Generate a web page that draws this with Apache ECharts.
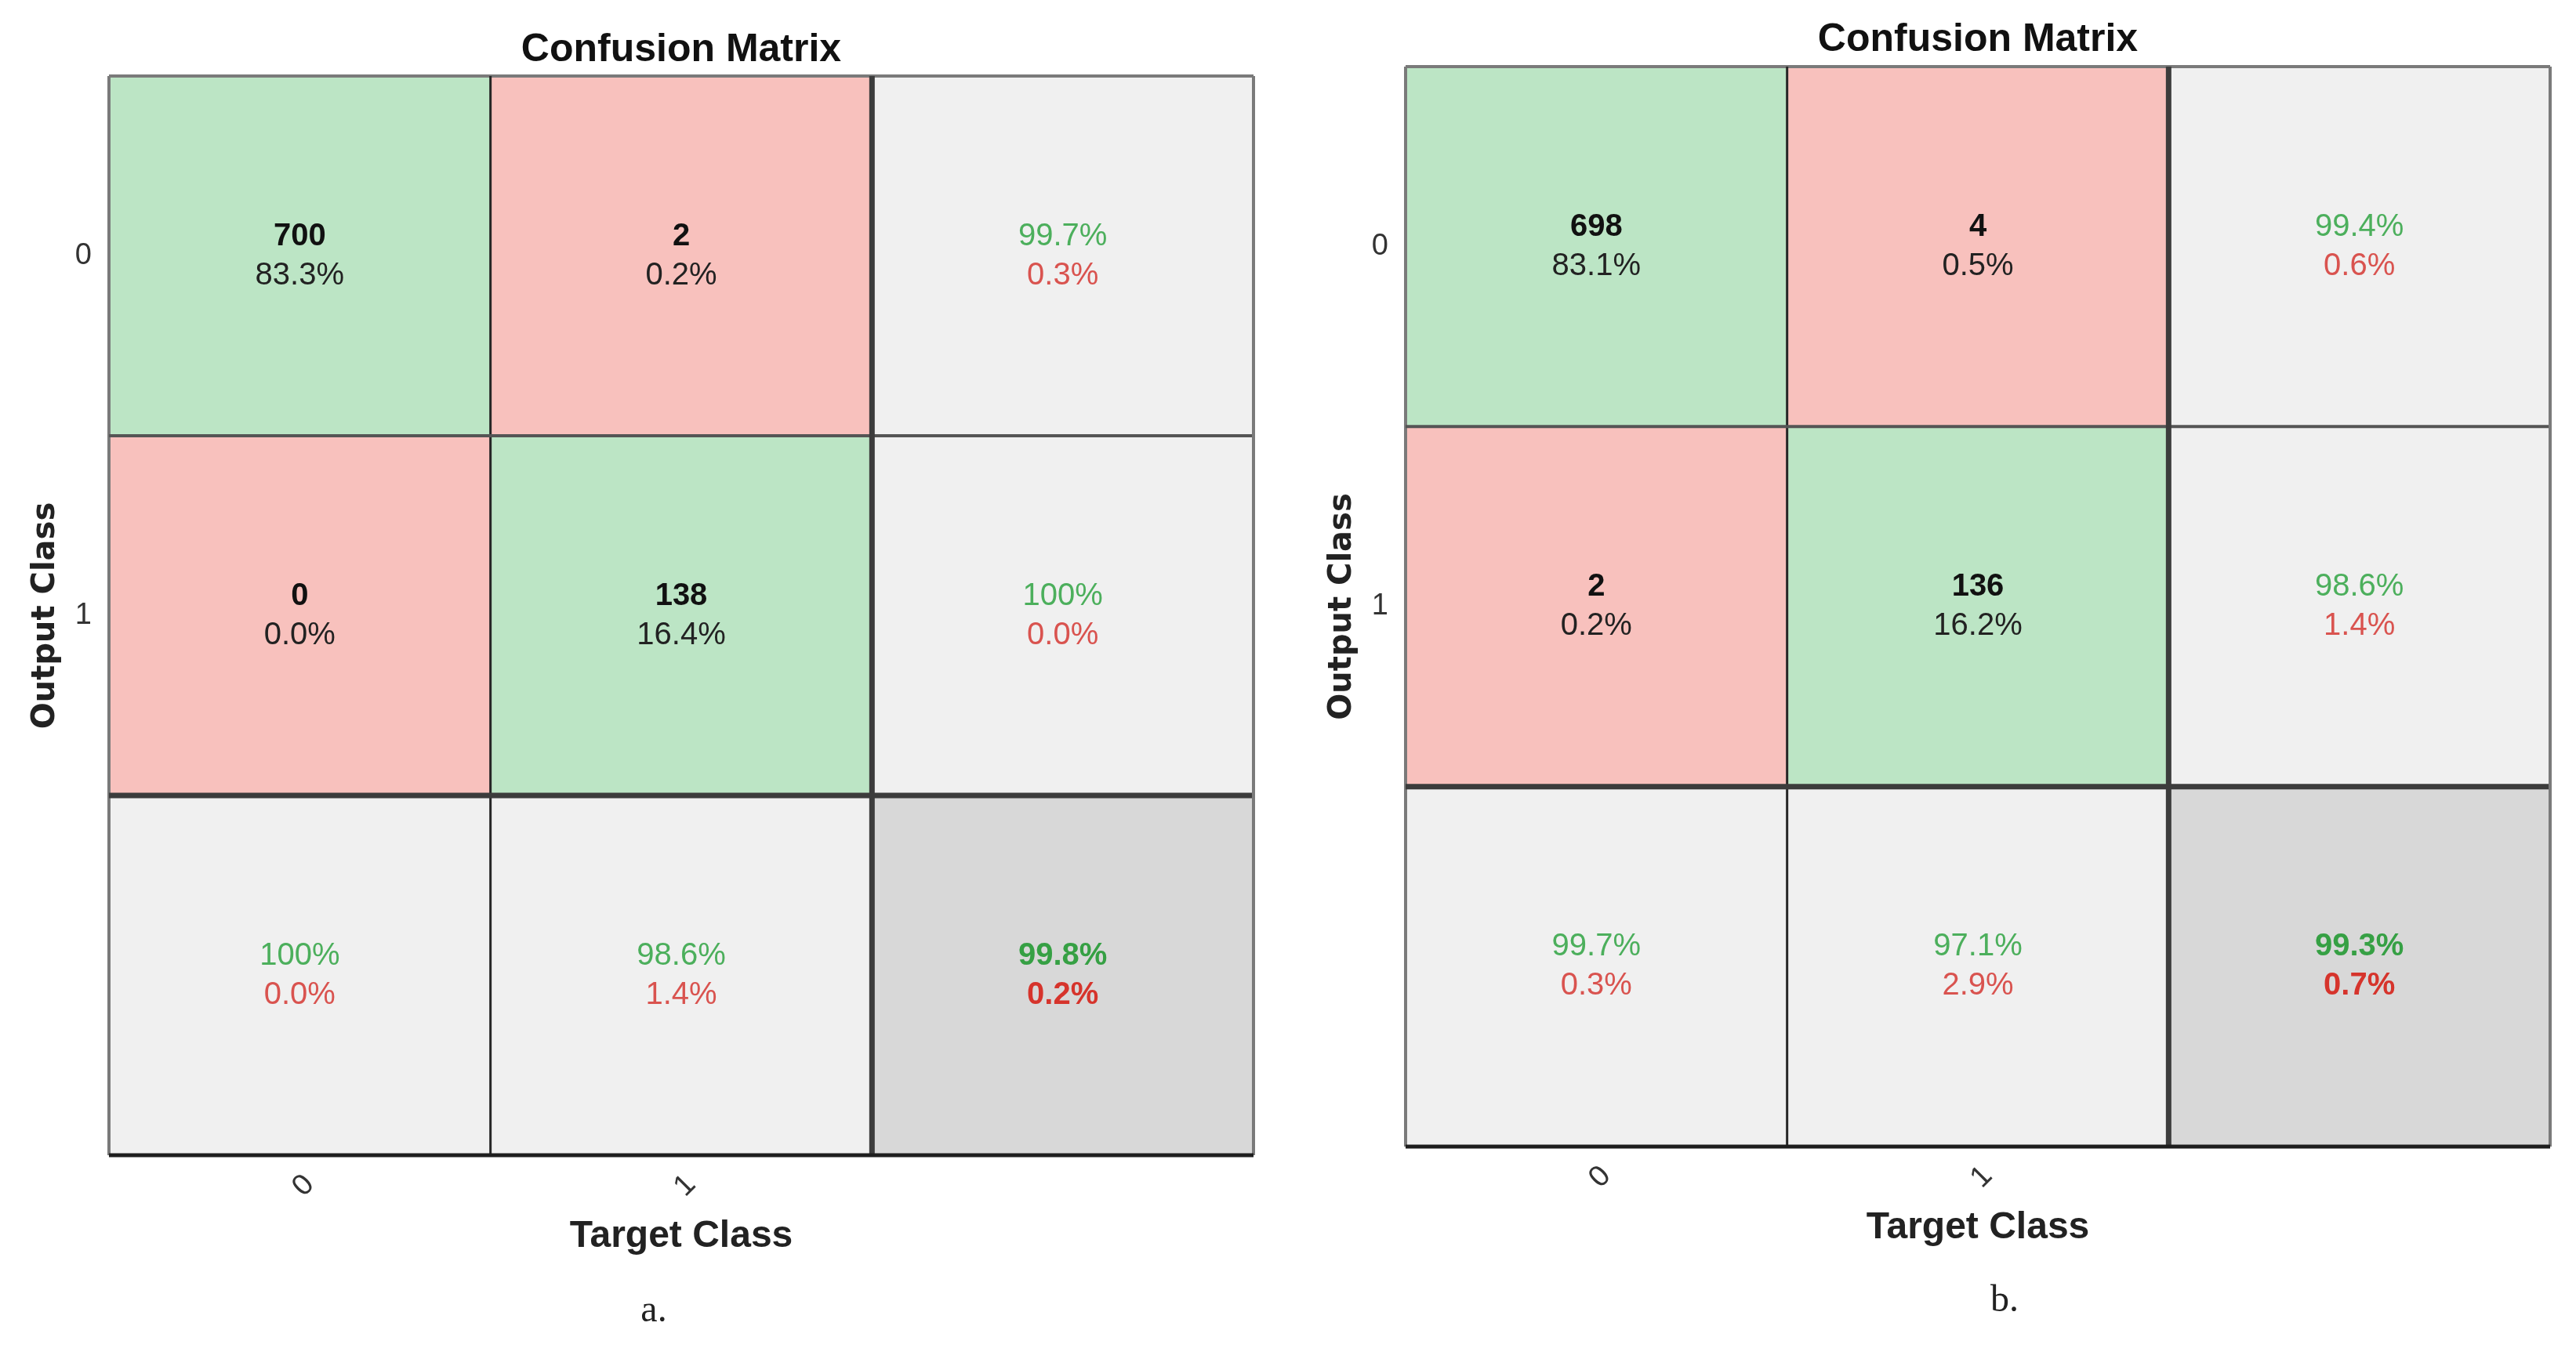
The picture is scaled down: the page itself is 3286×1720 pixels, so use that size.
<!DOCTYPE html>
<html>
<head>
<meta charset="utf-8">
<script src="https://cdn.jsdelivr.net/npm/echarts@6/dist/echarts.min.js"></script>
<style>
html,body{margin:0;padding:0;background:#fff;}
#chart{width:3286px;height:1720px;}
</style>
</head>
<body>
<div id="chart"></div>
<script>
// ---- data ----
const targetCats = ['0', '1', ''];
const outputCats = ['0', '1', ''];

// panel a
const countsA = [[700, 2], [0, 138]];
const cellPctA = [[83.3, 0.2], [0.0, 16.4]];
const rowPctA = [99.7, 100];
const rowErrA = [0.3, 0.0];
const colPctA = [100, 98.6];
const colErrA = [0.0, 1.4];
const totalA = [99.8, 0.2];

// panel b
const countsB = [[698, 4], [2, 136]];
const cellPctB = [[83.1, 0.5], [0.2, 16.2]];
const rowPctB = [99.4, 98.6];
const rowErrB = [0.6, 1.4];
const colPctB = [99.7, 97.1];
const colErrB = [0.3, 2.9];
const totalB = [99.3, 0.7];

const titleText = 'Confusion Matrix';
const xName = 'Target Class';
const yName = 'Output Class';
const captions = ['a.', 'b.'];

// ---- helpers ----
const fmt = v => (v === 100 ? '100' : v.toFixed(1)) + '%';
const COL = {
  hit: '#bce5c5', miss: '#f8c1bd', sum: '#f0f0f0', total: '#d8d8d8',
  green: '#4caf5c', red: '#d9534f', greenB: '#36a044', redB: '#d6342c'
};
const FONT = 'Liberation Sans';

function buildCells(counts, cellPct, rowPct, rowErr, colPct, colErr, total) {
  const n = counts.length;
  const cells = [];
  for (let r = 0; r < n; r++) {
    for (let c = 0; c < n; c++) {
      cells.push({ value: [c, r], kind: r === c ? 'hit' : 'miss',
        top: String(counts[r][c]), bottom: fmt(cellPct[r][c]) });
    }
    cells.push({ value: [n, r], kind: 'sum', top: fmt(rowPct[r]), bottom: fmt(rowErr[r]) });
  }
  for (let c = 0; c < n; c++) {
    cells.push({ value: [c, n], kind: 'sum', top: fmt(colPct[c]), bottom: fmt(colErr[c]) });
  }
  cells.push({ value: [n, n], kind: 'total', top: fmt(total[0]), bottom: fmt(total[1]) });
  return cells;
}

const rich = {
  cnt: { fontFamily: FONT, fontSize: 40, fontWeight: 'bold', fill: '#111', lineHeight: 50 },
  pct: { fontFamily: FONT, fontSize: 40, fill: '#222', lineHeight: 50 },
  gn: { fontFamily: FONT, fontSize: 40, fill: COL.green, lineHeight: 50 },
  rd: { fontFamily: FONT, fontSize: 40, fill: COL.red, lineHeight: 50 },
  gb: { fontFamily: FONT, fontSize: 40, fontWeight: 'bold', fill: COL.greenB, lineHeight: 50 },
  rb: { fontFamily: FONT, fontSize: 40, fontWeight: 'bold', fill: COL.redB, lineHeight: 50 }
};

function cellRenderer(cells) {
  return function (params, api) {
    const d = cells[params.dataIndex];
    const c = api.coord([api.value(0), api.value(1)]);
    const s = api.size([1, 1]);
    let text;
    if (d.kind === 'hit' || d.kind === 'miss') text = '{cnt|' + d.top + '}\n{pct|' + d.bottom + '}';
    else if (d.kind === 'sum') text = '{gn|' + d.top + '}\n{rd|' + d.bottom + '}';
    else text = '{gb|' + d.top + '}\n{rb|' + d.bottom + '}';
    return {
      type: 'group',
      children: [
        { type: 'rect', shape: { x: c[0] - s[0] / 2, y: c[1] - s[1] / 2, width: s[0], height: s[1] },
          style: { fill: COL[d.kind] } },
        { type: 'text', x: c[0], y: c[1],
          style: { text: text, rich: rich, align: 'center', verticalAlign: 'middle' } }
      ]
    };
  };
}

function lineRenderer(n) {
  return function (params, api) {
    const s = api.size([1, 1]);
    const p0 = api.coord([0, 0]);
    const pN = api.coord([n, n]);
    const x0 = p0[0] - s[0] / 2, x1 = pN[0] + s[0] / 2;
    const y0 = p0[1] - s[1] / 2, y1 = pN[1] + s[1] / 2;
    const kids = [];
    const styleFor = (k, dir) => {
      if (k === 0 || k === n + 1) {
        if (dir === 'h' && k === n + 1) return { stroke: '#1e1e1e', lineWidth: 5 };
        return { stroke: '#7a7a7a', lineWidth: 4 };
      }
      if (k === n) return { stroke: '#3c3c3c', lineWidth: 7 };
      return dir === 'v' ? { stroke: '#262626', lineWidth: 3 } : { stroke: '#555', lineWidth: 4 };
    };
    for (let k = 0; k <= n + 1; k++) {
      const xv = x0 + k * s[0];
      const yh = y0 + k * s[1];
      kids.push({ type: 'line', shape: { x1: xv, y1: y0, x2: xv, y2: y1 }, style: styleFor(k, 'v') });
      kids.push({ type: 'line', shape: { x1: x0, y1: yh, x2: x1, y2: yh }, style: styleFor(k, 'h') });
    }
    return { type: 'group', children: kids };
  };
}

const cellsA = buildCells(countsA, cellPctA, rowPctA, rowErrA, colPctA, colErrA, totalA);
const cellsB = buildCells(countsB, cellPctB, rowPctB, rowErrB, colPctB, colErrB, totalB);
const nCls = countsA.length;

const grids = [
  { left: 139, top: 97, width: 1460, height: 1377 },
  { left: 1793, top: 85, width: 1460, height: 1378 }
];

function xAxisFor(i) {
  return {
    type: 'category', gridIndex: i, data: targetCats,
    axisLine: { show: false }, axisTick: { show: false }, splitLine: { show: false },
    axisLabel: { rotate: 45, align: 'center', verticalAlign: 'middle', margin: 44,
      fontFamily: FONT, fontSize: 38, color: '#333', padding: [0, 0, 0, 14] },
    name: xName, nameLocation: 'middle', nameGap: 80,
    nameTextStyle: { fontFamily: FONT, fontWeight: 'bold', fontSize: 48, color: '#222' }
  };
}
function yAxisFor(i) {
  return {
    type: 'category', gridIndex: i, data: outputCats, inverse: true,
    axisLine: { show: false }, axisTick: { show: false }, splitLine: { show: false },
    axisLabel: { margin: 22, fontFamily: FONT, fontSize: 38, color: '#333' },
    name: yName, nameLocation: 'middle', nameGap: 60,
    nameTextStyle: { fontFamily: 'DejaVu Sans', fontWeight: 'bold', fontSize: 40, color: '#222' }
  };
}

const option = {
  backgroundColor: '#ffffff',
  animation: false,
  grid: grids,
  xAxis: [xAxisFor(0), xAxisFor(1)],
  yAxis: [yAxisFor(0), yAxisFor(1)],
  series: [
    { type: 'custom', xAxisIndex: 0, yAxisIndex: 0, data: cellsA, renderItem: cellRenderer(cellsA), z: 2 },
    { type: 'custom', xAxisIndex: 0, yAxisIndex: 0, data: [[0, 0]], renderItem: lineRenderer(nCls), z: 3, silent: true },
    { type: 'custom', xAxisIndex: 1, yAxisIndex: 1, data: cellsB, renderItem: cellRenderer(cellsB), z: 2 },
    { type: 'custom', xAxisIndex: 1, yAxisIndex: 1, data: [[0, 0]], renderItem: lineRenderer(nCls), z: 3, silent: true }
  ],
  graphic: [
    { type: 'text', x: 869, y: 64, style: { text: titleText, align: 'center', verticalAlign: 'middle',
      fontFamily: FONT, fontWeight: 'bold', fontSize: 50, fill: '#111' } },
    { type: 'text', x: 2523, y: 51, style: { text: titleText, align: 'center', verticalAlign: 'middle',
      fontFamily: FONT, fontWeight: 'bold', fontSize: 50, fill: '#111' } },
    { type: 'text', x: 834, y: 1673, style: { text: captions[0], align: 'center', verticalAlign: 'middle',
      fontFamily: 'Liberation Serif', fontSize: 48, fill: '#222' } },
    { type: 'text', x: 2557, y: 1660, style: { text: captions[1], align: 'center', verticalAlign: 'middle',
      fontFamily: 'Liberation Serif', fontSize: 48, fill: '#222' } }
  ]
};

const chart = echarts.init(document.getElementById('chart'), null, { renderer: 'canvas' });
chart.setOption(option);
</script>
</body>
</html>
